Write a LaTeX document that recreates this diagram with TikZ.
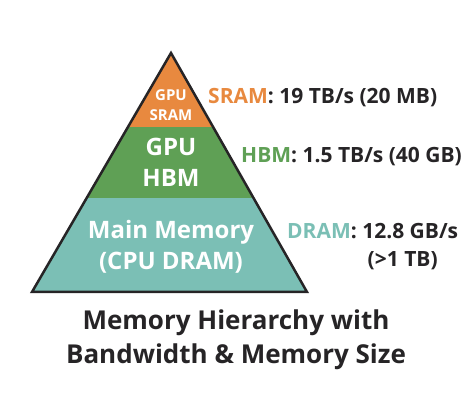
\documentclass[tikz,border=0pt]{standalone}
\usepackage{fontspec}
\setmainfont{Open Sans}
\usepackage{tikz}
\usetikzlibrary{positioning}
\definecolor{sramorange}{HTML}{E8893F}
\definecolor{hbmgreen}{HTML}{5FA055}
\definecolor{dramteal}{HTML}{7BBFB5}
\definecolor{inkdark}{HTML}{262426}

\begin{document}
\begin{tikzpicture}[
  x=1pt, y=1pt,
  tier/.style={text=white, align=center, inner sep=0pt, font=\bfseries\fontsize{24}{31}\selectfont},
  tiersmall/.style={tier, font=\bfseries\fontsize{15}{20}\selectfont},
  speed/.style={text=inkdark, anchor=west, inner sep=0pt, font=\bfseries\fontsize{21}{25}\selectfont},
  caption/.style={text=inkdark, align=center, inner sep=0pt, font=\bfseries\fontsize{26}{34}\selectfont}
]
\useasboundingbox (0,0) rectangle (474,411);
\coordinate (apex) at (171,358);
\coordinate (baseleft) at (32,119);
\coordinate (baseright) at (307,119);
% pyramid bands
\begin{scope}
  \clip (apex) -- (baseleft) -- (baseright) -- cycle;
  \fill[dramteal] (0,119) rectangle (474,213);
  \fill[hbmgreen] (0,213) rectangle (474,284);
  \fill[sramorange] (0,284) rectangle (474,360);
\end{scope}
\draw[inkdark, line width=2.5pt] (apex) -- (baseleft) -- (baseright) -- cycle;
% tier names
\node[tiersmall] (sram) at (171,306) {GPU\\SRAM};
\node[tier] (hbm) at (171,249) {GPU\\HBM};
\node[tier] (dram) at (171,164) {Main Memory\\(CPU DRAM)};
% bandwidth labels
\node[speed] (sramspeed) at (208,313) {\textcolor{sramorange}{SRAM}: 19 TB/s (20 MB)};
\node[speed] (hbmspeed) at (241,254) {\textcolor{hbmgreen}{HBM}: 1.5 TB/s (40 GB)};
\node[speed] (dramspeed) at (287,180) {\textcolor{dramteal}{DRAM}: 12.8 GB/s};
\node[speed, anchor=north, below=12pt of dramspeed.south, xshift=30pt] (dramsize) {(>1 TB)};
% caption
\node[caption] (title) at (236,71) {Memory Hierarchy with\\Bandwidth \& Memory Size};
\end{tikzpicture}
\end{document}
